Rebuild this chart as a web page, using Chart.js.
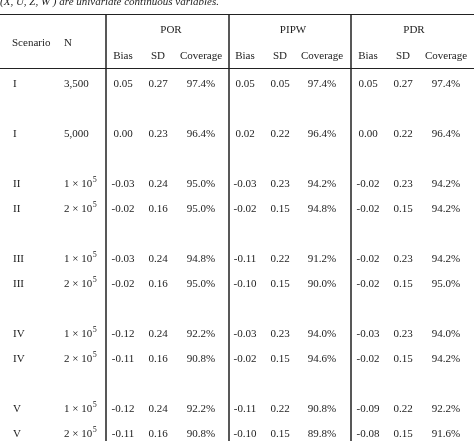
<!DOCTYPE html>
<html>
<head>
<meta charset="utf-8">
<script src="https://cdn.jsdelivr.net/npm/chart.js@4"></script>
<style>
  html, body { margin: 0; padding: 0; background: #fff; }
  #wrap { width: 474px; height: 441px; }
</style>
</head>
<body>
<div id="wrap"><canvas id="c"></canvas></div>
<script>
// table contents
const scenarios = ['I', 'I', 'II', 'II', 'III', 'III', 'IV', 'IV', 'V', 'V'];
const sizes = ['3,500', '5,000', '1e5', '2e5', '1e5', '2e5', '1e5', '2e5', '1e5', '2e5'];
const methods = ['POR', 'PIPW', 'PDR'];
const metrics = ['Bias', 'SD', 'Coverage'];
const porBias = ['0.05', '0.00', '-0.03', '-0.02', '-0.03', '-0.02', '-0.12', '-0.11', '-0.12', '-0.11'];
const porSD = ['0.27', '0.23', '0.24', '0.16', '0.24', '0.16', '0.24', '0.16', '0.24', '0.16'];
const porCov = ['97.4%', '96.4%', '95.0%', '95.0%', '94.8%', '95.0%', '92.2%', '90.8%', '92.2%', '90.8%'];
const pipwBias = ['0.05', '0.02', '-0.03', '-0.02', '-0.11', '-0.10', '-0.03', '-0.02', '-0.11', '-0.10'];
const pipwSD = ['0.05', '0.22', '0.23', '0.15', '0.22', '0.15', '0.23', '0.15', '0.22', '0.15'];
const pipwCov = ['97.4%', '96.4%', '94.2%', '94.8%', '91.2%', '90.0%', '94.0%', '94.6%', '90.8%', '89.8%'];
const pdrBias = ['0.05', '0.00', '-0.02', '-0.02', '-0.02', '-0.02', '-0.03', '-0.02', '-0.09', '-0.08'];
const pdrSD = ['0.27', '0.22', '0.23', '0.15', '0.23', '0.15', '0.23', '0.15', '0.22', '0.15'];
const pdrCov = ['97.4%', '96.4%', '94.2%', '94.2%', '94.2%', '95.0%', '94.0%', '94.2%', '92.2%', '91.6%'];
const caption = '(X, U, Z, W ) are univariate continuous variables.';

// layout in scale units (pixels of the 474x441 frame)
const rowY = [84, 134, 184, 209, 259, 284, 334, 359, 409, 434];
const colX = [123, 158, 201, 245, 280, 322, 368, 403, 446];
const groupX = [171, 293, 414];
const dividers = [106, 229, 351];

const values = [porBias, porSD, porCov, pipwBias, pipwSD, pipwCov, pdrBias, pdrSD, pdrCov];
const FONT = '"Liberation Serif", "DejaVu Serif", serif';

const tablePlugin = {
  id: 'table',
  afterDraw(chart) {
    const ctx = chart.ctx;
    const x = v => chart.scales.x.getPixelForValue(v);
    const y = v => chart.scales.y.getPixelForValue(v);
    ctx.save();
    ctx.fillStyle = '#222';
    ctx.textBaseline = 'middle';

    ctx.font = 'italic 11px ' + FONT;
    ctx.textAlign = 'left';
    ctx.fillText(caption, x(0), y(2));

    ctx.strokeStyle = '#222';
    ctx.lineWidth = 1;
    ctx.beginPath();
    ctx.moveTo(x(0), y(14.5)); ctx.lineTo(x(474), y(14.5));
    ctx.moveTo(x(0), y(68.5)); ctx.lineTo(x(474), y(68.5));
    ctx.stroke();
    ctx.lineWidth = 1.5;
    ctx.beginPath();
    dividers.forEach(d => { ctx.moveTo(x(d), y(14.5)); ctx.lineTo(x(d), y(441)); });
    ctx.stroke();

    ctx.font = '11px ' + FONT;
    ctx.textAlign = 'left';
    ctx.fillText('Scenario', x(12), y(43));
    ctx.fillText('N', x(64), y(43));
    ctx.textAlign = 'center';
    methods.forEach((m, i) => ctx.fillText(m, x(groupX[i]), y(30)));
    colX.forEach((cx, i) => ctx.fillText(metrics[i % 3], x(cx), y(56)));

    rowY.forEach((ry, r) => {
      ctx.textAlign = 'left';
      ctx.font = '11px ' + FONT;
      ctx.fillText(scenarios[r], x(13), y(ry));
      const s = sizes[r];
      if (s.includes('e')) {
        const [m, e] = s.split('e');
        const base = m + ' × 10';
        ctx.fillText(base, x(64), y(ry));
        const w = ctx.measureText(base).width;
        ctx.font = '8px ' + FONT;
        ctx.fillText(e, x(64) + w + 0.5, y(ry) - 4);
        ctx.font = '11px ' + FONT;
      } else {
        ctx.fillText(s, x(64), y(ry));
      }
      ctx.textAlign = 'center';
      values.forEach((col, c) => ctx.fillText(col[r], x(colX[c]), y(ry)));
    });
    ctx.restore();
  }
};

new Chart(document.getElementById('c'), {
  type: 'scatter',
  data: { datasets: [{ data: [], pointRadius: 0 }] },
  options: {
    responsive: true,
    maintainAspectRatio: false,
    animation: false,
    layout: { padding: 0 },
    plugins: { legend: { display: false }, tooltip: { enabled: false } },
    scales: {
      x: { type: 'linear', min: 0, max: 474, display: false },
      y: { type: 'linear', min: 0, max: 441, reverse: true, display: false }
    }
  },
  plugins: [tablePlugin]
});
</script>
</body>
</html>
